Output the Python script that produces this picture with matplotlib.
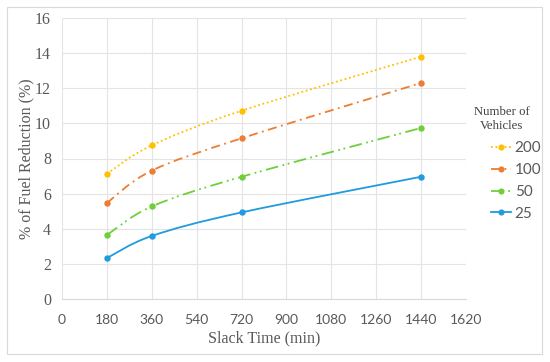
import numpy as np
import matplotlib
matplotlib.use("Agg")
import matplotlib.pyplot as plt
from matplotlib.path import Path
from matplotlib.patches import PathPatch, Rectangle
from matplotlib.lines import Line2D

# data
slack_time = [180, 360, 720, 1440]
series_names = ["200", "100", "50", "25"]
fuel_200 = [7.13, 8.75, 10.72, 13.80]
fuel_100 = [5.47, 7.31, 9.15, 12.30]
fuel_50 = [3.64, 5.27, 6.96, 9.74]
fuel_25 = [2.33, 3.59, 4.93, 6.96]
x_ticks = [0, 180, 360, 540, 720, 900, 1080, 1260, 1440, 1620]
y_ticks = [0, 2, 4, 6, 8, 10, 12, 14, 16]

colors = ["#FFC000", "#ED7D31", "#6FCF3A", "#1F9BDE"]
styles = [(0, (1, 1.5)), (0, (5, 2.5, 1, 2.5)), (0, (7, 2.5, 1, 2, 1, 2.5)), "-"]
SERIF = "Liberation Serif"
SANS = "Lato"


def smooth_path(xs, ys, tension=1 / 6):
    # Catmull-Rom style bezier, like Excel's "smoothed line"
    xs = np.asarray(xs, float)
    ys = np.asarray(ys, float)
    n = len(xs)
    verts = [(xs[0], ys[0])]
    codes = [Path.MOVETO]
    for i in range(n - 1):
        i0 = max(i - 1, 0)
        i3 = min(i + 2, n - 1)
        c1 = (xs[i] + (xs[i + 1] - xs[i0]) * tension, ys[i] + (ys[i + 1] - ys[i0]) * tension)
        c2 = (xs[i + 1] - (xs[i3] - xs[i]) * tension, ys[i + 1] - (ys[i3] - ys[i]) * tension)
        verts += [c1, c2, (xs[i + 1], ys[i + 1])]
        codes += [Path.CURVE4] * 3
    return Path(verts, codes)


fig = plt.figure(figsize=(5.5, 3.62), dpi=100)
fig.patches.append(Rectangle((7 / 550, 8 / 362), 535 / 550, 347 / 362, transform=fig.transFigure,
                             fill=False, edgecolor="#D9D9D9", linewidth=0.8))
ax = fig.add_axes([62 / 550, 63 / 362, 404 / 550, 281 / 362])

all_series = [fuel_200, fuel_100, fuel_50, fuel_25]
handles = []
for name, vals, c, ls in zip(series_names, all_series, colors, styles):
    patch = PathPatch(smooth_path(slack_time, vals), fill=False, edgecolor=c,
                      linewidth=1.3, linestyle=ls, zorder=3)
    ax.add_patch(patch)
    ax.plot(slack_time, vals, linestyle="none", marker="o", markersize=3.6, color=c, zorder=4)
    handles.append(Line2D([], [], color=c, linestyle=ls, linewidth=1.3, marker="o", markersize=3.4))

ax.set_xlim(0, 1620)
ax.set_ylim(0, 16)
ax.set_xticks(x_ticks)
ax.set_yticks(y_ticks)
ax.grid(True, color="#E4E4E4", linewidth=0.8)
ax.set_axisbelow(True)
for s in ["top", "right", "left"]:
    ax.spines[s].set_visible(False)
ax.spines["bottom"].set_color("#D9D9D9")
ax.tick_params(axis="y", length=0, pad=8)
ax.tick_params(axis="x", length=0, pad=11)
for lbl in ax.get_xticklabels():
    lbl.set_fontfamily(SANS)
    lbl.set_fontsize(10)
    lbl.set_color("#595959")
for lbl in ax.get_yticklabels():
    lbl.set_fontfamily(SERIF)
    lbl.set_fontsize(11.5)
    lbl.set_color("#595959")

ax.set_xlabel("Slack Time (min)", fontfamily=SERIF, fontsize=11.5, color="#595959", labelpad=3)
ax.set_ylabel("% of Fuel Reduction (%)", fontfamily=SERIF, fontsize=11.5, color="#595959", labelpad=0)

fig.text(502 / 550, (362 - 119) / 362, "Number of\nVehicles", ha="center", va="center",
         fontfamily=SERIF, fontsize=9.2, color="#404040", linespacing=1.3)
leg = ax.legend(handles, series_names, loc="upper left", bbox_to_anchor=(491 / 550, (362 - 141) / 362),
                bbox_transform=fig.transFigure, frameon=False, handlelength=1.3,
                handletextpad=0.25, labelspacing=0.52, borderpad=0, borderaxespad=0,
                prop={"family": SANS, "size": 11})
for t in leg.get_texts():
    t.set_color("#595959")

fig.savefig("out.png", dpi=100)
